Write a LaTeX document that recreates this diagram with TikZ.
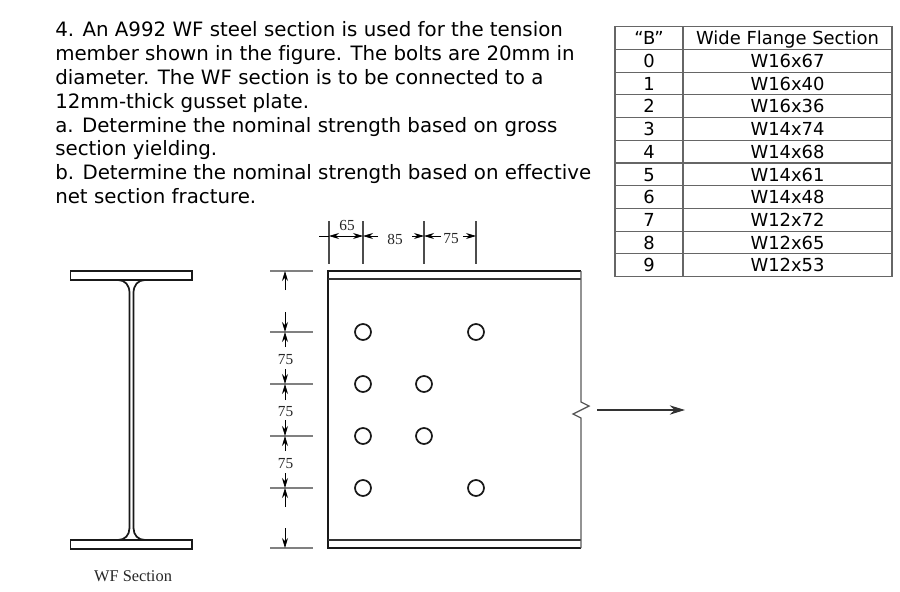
\documentclass[tikz,border=0pt]{standalone}
\usepackage{fontspec}
\setmainfont{Liberation Serif}
\newfontfamily\probfont[Ligatures=NoCommon]{DejaVu Sans}
\usetikzlibrary{arrows.meta}

\begin{document}
\begin{tikzpicture}[x=0.75pt,y=-0.75pt]
        \tikzstyle{problem}=[font=\probfont\fontsize{14.85}{17.95}\selectfont,align=left,anchor=north west,inner sep=0pt]
        \tikzstyle{cell}=[draw=black!60,line width=0.8pt,inner sep=0pt,minimum height=17.05pt,text height=10pt,text depth=0pt,font=\probfont\fontsize{13.45}{15}\selectfont]
        \tikzstyle{hole}=[draw,circle,line width=1.3pt,inner sep=0pt,minimum size=12pt,black!90]
        \tikzstyle{dimtext}=[font=\fontsize{11.5}{13}\selectfont,text=black!85,inner sep=0pt]
        \tikzstyle{plate}=[line width=1.5pt,black!90]
        \tikzstyle{thin}=[line width=1pt,black!65]
        \tikzstyle{tick}=[line width=0.8pt,black!70]
        \tikzstyle{dimline}=[line width=0.6pt,-{Stealth[length=7.5pt,width=4.5pt]}]
        \useasboundingbox (0,0) rectangle (900,592);

        % problem statement
        \node[problem] (statement) at (55,21) {4. An A992 WF steel section is used for the tension\\member shown in the figure. The bolts are 20mm in\\diameter. The WF section is to be connected to a\\12mm-thick gusset plate.\\a. Determine the nominal strength based on gross\\section yielding.\\b. Determine the nominal strength based on effective\\net section fracture.};

        % table
        \node[cell,minimum width=51pt] (b0) at (649,38) {“B”};
        \node[cell,minimum width=156.75pt] (w0) at (787.5,38) {Wide Flange Section};
        \foreach \bval/\wsec [count=\i] in {0/W16x67,1/W16x40,2/W16x36,3/W14x74,4/W14x68,5/W14x61,6/W14x48,7/W12x72,8/W12x65,9/W12x53} {
            \node[cell,minimum width=51pt] (b\i) at (649,38+22.73*\i) {\bval};
            \node[cell,minimum width=156.75pt] (w\i) at (787.5,38+22.73*\i) {\wsec};
        }

        % WF section
        \draw[plate,line width=1.3pt] (70.5,271) rectangle (192,280);
        \draw[plate,line width=1.3pt] (70.5,540) rectangle (192,549);
        \draw[plate,line width=1.3pt] (118,280) .. controls (125,280) and (129.5,285) .. (129.5,293) -- (129.5,528) .. controls (129.5,535) and (125,540) .. (118,540);
        \draw[plate,line width=1.3pt] (145,280) .. controls (138,280) and (133.5,285) .. (133.5,293) -- (133.5,528) .. controls (133.5,535) and (138,540) .. (145,540);
        \node[font=\fontsize{12.3}{14}\selectfont,text=black!85,inner sep=0pt] (wflabel) at (133,576) {WF Section};

        % plate with holes
        \draw[plate] (581,271) -- (328,271) -- (328,548) -- (581,548);
        \draw[thin,black!80] (328,279) -- (581,279);
        \draw[thin,black!80] (328,540) -- (581,540);
        \draw[thin] (581,271) -- (581,402) -- (589,406) -- (573,414) -- (581,418) -- (581,548);
        \foreach \name/\xx/\yy in {ha/363/332,hb/476/332,hc/363/384,hd/424/384,he/363/436,hf/424/436,hg/363/488,hh/476/488} {
            \node[hole] (\name) at (\xx,\yy) {};
        }

        % load
        \coordinate (loadstart) at (597,410);
        \coordinate (loadend) at (685,410);
        \draw[line width=1pt,black!80,-{Stealth[length=11.5pt,width=7pt]}] (loadstart) -- (loadend);

        % top dimensions
        \foreach \name/\xx in {ta/329,tb/363,tc/424,td/476} {
            \coordinate (\name) at (\xx,236);
            \draw[tick] (\xx,221) -- (\xx,264);
        }
        \coordinate (tleft) at (319,236);
        \draw[line width=0.6pt] (tleft) -- (ta);
        \draw[dimline,{Stealth[length=7.5pt,width=4.5pt]}-{Stealth[length=7.5pt,width=4.5pt]}] (ta) -- (tb);
        \draw[dimline] (378,236) -- (tb);
        \draw[dimline] (412,236) -- (tc);
        \draw[dimline] (441,236) -- (tc);
        \draw[dimline] (463,236) -- (td);
        \node[dimtext] (dima) at (347,225) {65};
        \node[dimtext] (dimb) at (395,239) {85};
        \node[dimtext] (dimc) at (451,239) {75};

        % left dimensions
        \foreach \name/\yy in {la/271,lb/332,lc/384,ld/436,le/488,lf/548} {
            \coordinate (\name) at (285,\yy);
            \draw[line width=0.8pt,black!50] (270,\yy) -- (313,\yy);
        }
        \draw[dimline] (285,290) -- (la);
        \draw[dimline] (285,312) -- (lb);
        \draw[dimline] (285,347) -- (lb);
        \draw[dimline] (285,369) -- (lc);
        \draw[dimline] (285,400) -- (lc);
        \draw[dimline] (285,420) -- (ld);
        \draw[dimline] (285,451) -- (ld);
        \draw[dimline] (285,473) -- (le);
        \draw[dimline] (285,507) -- (le);
        \draw[dimline] (285,528) -- (lf);
        \node[dimtext] (dimd) at (285.5,360) {75};
        \node[dimtext] (dime) at (285.5,412) {75};
        \node[dimtext] (dimf) at (285.5,464) {75};
    \end{tikzpicture}
\end{document}
